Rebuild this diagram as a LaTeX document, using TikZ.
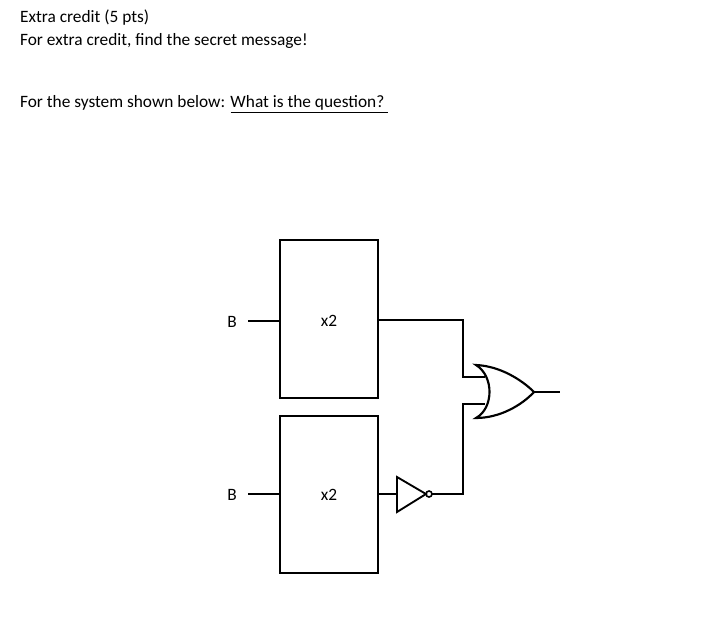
\documentclass[tikz,border=0pt]{standalone}
\usepackage{fontspec}
\setmainfont{Carlito}
\begin{document}
\begin{tikzpicture}[x=0.75pt,y=-0.75pt,line width=1.6pt,
  txt/.style={anchor=west,inner sep=0pt,font=\fontsize{13}{15}\selectfont},
  box/.style={draw,line width=1.6pt},
  lbl/.style={inner sep=0pt,font=\fontsize{13}{15}\selectfont}]
\useasboundingbox (0,0) rectangle (716,621);
\node[txt] (t1) at (19,18) {Extra credit (5 pts)};
\node[txt] (t2) at (19,41) {For extra credit, find the secret message!};
\node[txt] (t3) at (19,104) {For the system shown below: \underline{What is the question?\ }};
% boxes
\draw[box] (280,240) rectangle (378,398);
\draw[box] (280,416) rectangle (378,573);
\node[lbl] (x1) at (329,321) {x2};
\node[lbl] (x2) at (329,495) {x2};
\node[lbl] (b1) at (232,322) {B};
\node[lbl] (b2) at (232,495) {B};
\coordinate (i1) at (280,321);
\coordinate (i2) at (280,494);
\draw (248,321) -- (i1);
\draw (248,494) -- (i2);
% inverter
\draw[line width=1.4pt] (397,477) -- (397,512) -- (426,494) -- cycle;
\draw[line width=1.2pt] (429,494) circle (3);
\draw (378,494) -- (397,494);
\draw (432,494) -- (463,494) -- (463,404) -- (485,404);
% top wire
\draw (378,320) -- (463,320) -- (463,377) -- (485,377);
% OR gate
\draw[line width=1.6pt,fill=white] (476,365) .. controls (494,376) and (494,408) .. (476,418)
  .. controls (500,418) and (522,405) .. (534,392)
  .. controls (522,380) and (500,366) .. (476,365) -- cycle;
\draw (534,392) -- (560,392);
\end{tikzpicture}
\end{document}
